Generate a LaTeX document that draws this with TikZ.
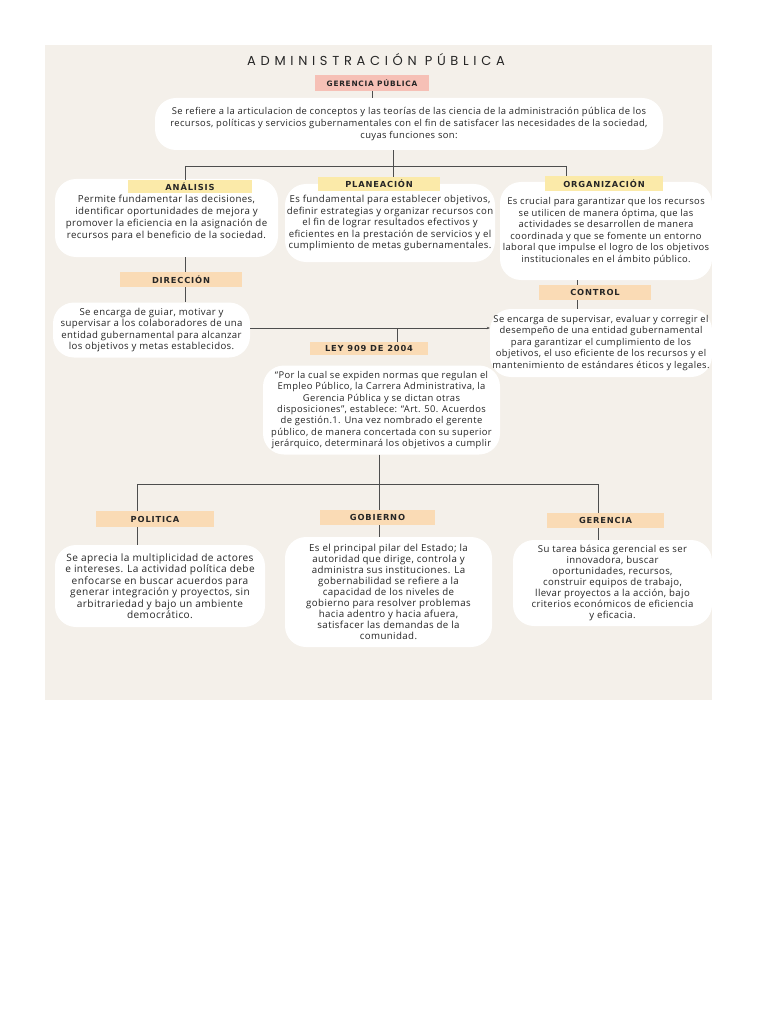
\documentclass[tikz,border=0pt]{standalone}
\usepackage{fontspec}
\setmainfont{Open Sans}[LetterSpace=4]
\newfontfamily\titlefont{Poppins}[LetterSpace=36]
\newfontfamily\tagfont{DejaVu Sans}[LetterSpace=10]
\usetikzlibrary{positioning,arrows.meta}
\definecolor{panel}{HTML}{F4F0EA}
\definecolor{amarillo}{HTML}{FBEAA9}
\definecolor{durazno}{HTML}{FADBB5}
\definecolor{rosa}{HTML}{F6C0B6}
\definecolor{linea}{HTML}{4D4D4D}
\definecolor{tinta}{HTML}{262626}
\newcommand{\tam}[2]{\fontsize{#1}{#2}\selectfont}
\tikzstyle{card} = [rectangle, rounded corners=21pt, fill=white, align=center, inner sep=0pt, text=tinta]
\tikzstyle{tag} = [rectangle, inner sep=0pt, text=tinta, font=\tagfont\bfseries\tam{8.3}{9}]
\tikzstyle{tagA} = [tag, fill=amarillo]
\tikzstyle{tagD} = [tag, fill=durazno]
\tikzstyle{conn} = [draw=linea, line width=0.8pt]

\begin{document}
\begin{tikzpicture}[x=1pt, y=-1pt]
\fill[white] (0,0) rectangle (768,1024);
\useasboundingbox (0,0) rectangle (768,1024);
\fill[panel] (45,45) rectangle (712,700);

% title and top
\node(T)[text=tinta, font=\titlefont\tam{13}{15}] at (376,60) {ADMINISTRACIÓN PÚBLICA};
\node(GP)[tag, fill=rosa, minimum width=114pt, minimum height=16pt, font=\tagfont\bfseries\tam{7.4}{8}] at (372,83) {GERENCIA PÚBLICA};
\node(M)[card, minimum width=508pt, minimum height=52pt, font=\tam{9.4}{12}] at (409,124) {Se refiere a la articulacion de conceptos y las teorías de las ciencia de la administración pública de los\\recursos, políticas y servicios gubernamentales con el fin de satisfacer las necesidades de la sociedad,\\cuyas funciones son:};

% funciones
\node(A)[card, minimum width=223pt, minimum height=78pt, font=\tam{9.7}{11.7}] at (166.5,218) {Permite fundamentar las decisiones,\\identificar oportunidades de mejora y\\promover la eficiencia en la asignación de\\recursos para el beneficio de la sociedad.};
\node(P)[card, minimum width=210pt, minimum height=78pt, font=\tam{9.6}{11.5}] at (390,223) {Es fundamental para establecer objetivos,\\definir estrategias y organizar recursos con\\el fin de lograr resultados efectivos y\\eficientes en la prestación de servicios y el\\cumplimiento de metas gubernamentales.};
\node(O)[card, minimum width=212pt, minimum height=98pt, font=\tam{9.4}{11.6}] at (606,231) {Es crucial para garantizar que los recursos\\se utilicen de manera óptima, que las\\actividades se desarrollen de manera\\coordinada y que se fomente un entorno\\laboral que impulse el logro de los objetivos\\institucionales en el ámbito público.};
\node(lA)[tagA, minimum width=124pt, minimum height=13pt] at (190,186.5) {ANÁLISIS};
\node(lP)[tagA, minimum width=122pt, minimum height=14pt] at (379,184) {PLANEACIÓN};
\node(lO)[tagA, minimum width=118pt, minimum height=15pt] at (604,183.5) {ORGANIZACIÓN};

\node(lD)[tagD, minimum width=122pt, minimum height=15pt] at (181,279.5) {DIRECCIÓN};
\node(D)[card, minimum width=197pt, minimum height=55pt, font=\tam{9.6}{11.4}] at (151.5,330) {Se encarga de guiar, motivar y\\supervisar a los colaboradores de una\\entidad gubernamental para alcanzar\\los objetivos y metas establecidos.};
\node(lC)[tagD, minimum width=112pt, minimum height=15pt] at (595,292.5) {CONTROL};
\node(C)[card, minimum width=222pt, minimum height=68pt, font=\tam{9.4}{11.5}] at (601,343) {Se encarga de supervisar, evaluar y corregir el\\desempeño de una entidad gubernamental\\para garantizar el cumplimiento de los\\objetivos, el uso eficiente de los recursos y el\\mantenimiento de estándares éticos y legales.};

% ley
\node(lL)[tagD, minimum width=118pt, minimum height=13pt] at (369,348.5) {LEY 909 DE 2004};
\node(L)[card, minimum width=237pt, minimum height=89pt, font=\tam{9.4}{11.3}] at (381.5,410) {“Por la cual se expiden normas que regulan el\\Empleo Público, la Carrera Administrativa, la\\Gerencia Pública y se dictan otras\\disposiciones”, establece: “Art. 50. Acuerdos\\de gestión.1. Una vez nombrado el gerente\\público, de manera concertada con su superior\\jerárquico, determinará los objetivos a cumplir};

% ramas
\node(lPO)[tagD, minimum width=118pt, minimum height=16pt] at (155,519) {POLITICA};
\node(lG)[tagD, minimum width=115pt, minimum height=15pt] at (377.5,517.5) {GOBIERNO};
\node(lGE)[tagD, minimum width=117pt, minimum height=15pt] at (605.5,520.5) {GERENCIA};
\node(PO)[card, minimum width=210pt, minimum height=82pt, font=\tam{10.1}{11.5}] at (160,586) {Se aprecia la multiplicidad de actores\\e intereses. La actividad política debe\\enfocarse en buscar acuerdos para\\generar integración y proyectos, sin\\arbitrariedad y bajo un ambiente\\democrático.};
\node(G)[card, minimum width=207pt, minimum height=110pt, font=\tam{9.7}{11}] at (388.5,592) {Es el principal pilar del Estado; la\\autoridad que dirige, controla y\\administra sus instituciones. La\\gobernabilidad se refiere a la\\capacidad de los niveles de\\gobierno para resolver problemas\\hacia adentro y hacia afuera,\\satisfacer las demandas de la\\comunidad.};
\node(GE)[card, minimum width=199pt, minimum height=86pt, font=\tam{9.6}{11}] at (612.5,583) {Su tarea básica gerencial es ser\\innovadora, buscar\\oportunidades, recursos,\\construir equipos de trabajo,\\llevar proyectos a la acción, bajo\\criterios económicos de eficiencia\\y eficacia.};

% puntos de union
\coordinate(j1) at (393,166);
\coordinate(jA) at (185,166);
\coordinate(jO) at (566,166);
\coordinate(xD) at (185,0);
\coordinate(xC) at (577,0);
\coordinate(j2) at (397,328);
\coordinate(j3) at (379,484);
\coordinate(jPO) at (137,484);
\coordinate(jGE) at (598,484);

\draw[conn](GP.south)--(GP.south |- M.north);
\draw[conn](M.south -| j1)--(j1);
\draw[conn](jA)--(jO);
\draw[conn](jA)--(jA |- lA.north);
\draw[conn](j1)--(j1 |- lP.north);
\draw[conn](jO)--(jO |- lO.north);
\draw[conn](A.south -| xD)--(lD.north -| xD);
\draw[conn](lD.south -| xD)--(D.north -| xD);
\draw[conn](O.south -| xC)--(lC.north -| xC);
\draw[conn](lC.south -| xC)--(C.north -| xC);
\draw[conn,-{Stealth[length=3pt,width=2.5pt]}](D.east |- j2)--(C.west |- j2);
\draw[conn](j2)--(j2 |- lL.north);
\draw[conn](L.south -| j3)--(j3 |- lG.north);
\draw[conn](jPO)--(jGE);
\draw[conn](jPO)--(jPO |- lPO.north);
\draw[conn](jGE)--(jGE |- lGE.north);
\draw[conn](lPO.south -| jPO)--(PO.north -| jPO);
\draw[conn](lG.south -| j3)--(G.north -| j3);
\draw[conn](lGE.south -| jGE)--(GE.north -| jGE);
\end{tikzpicture}
\end{document}
